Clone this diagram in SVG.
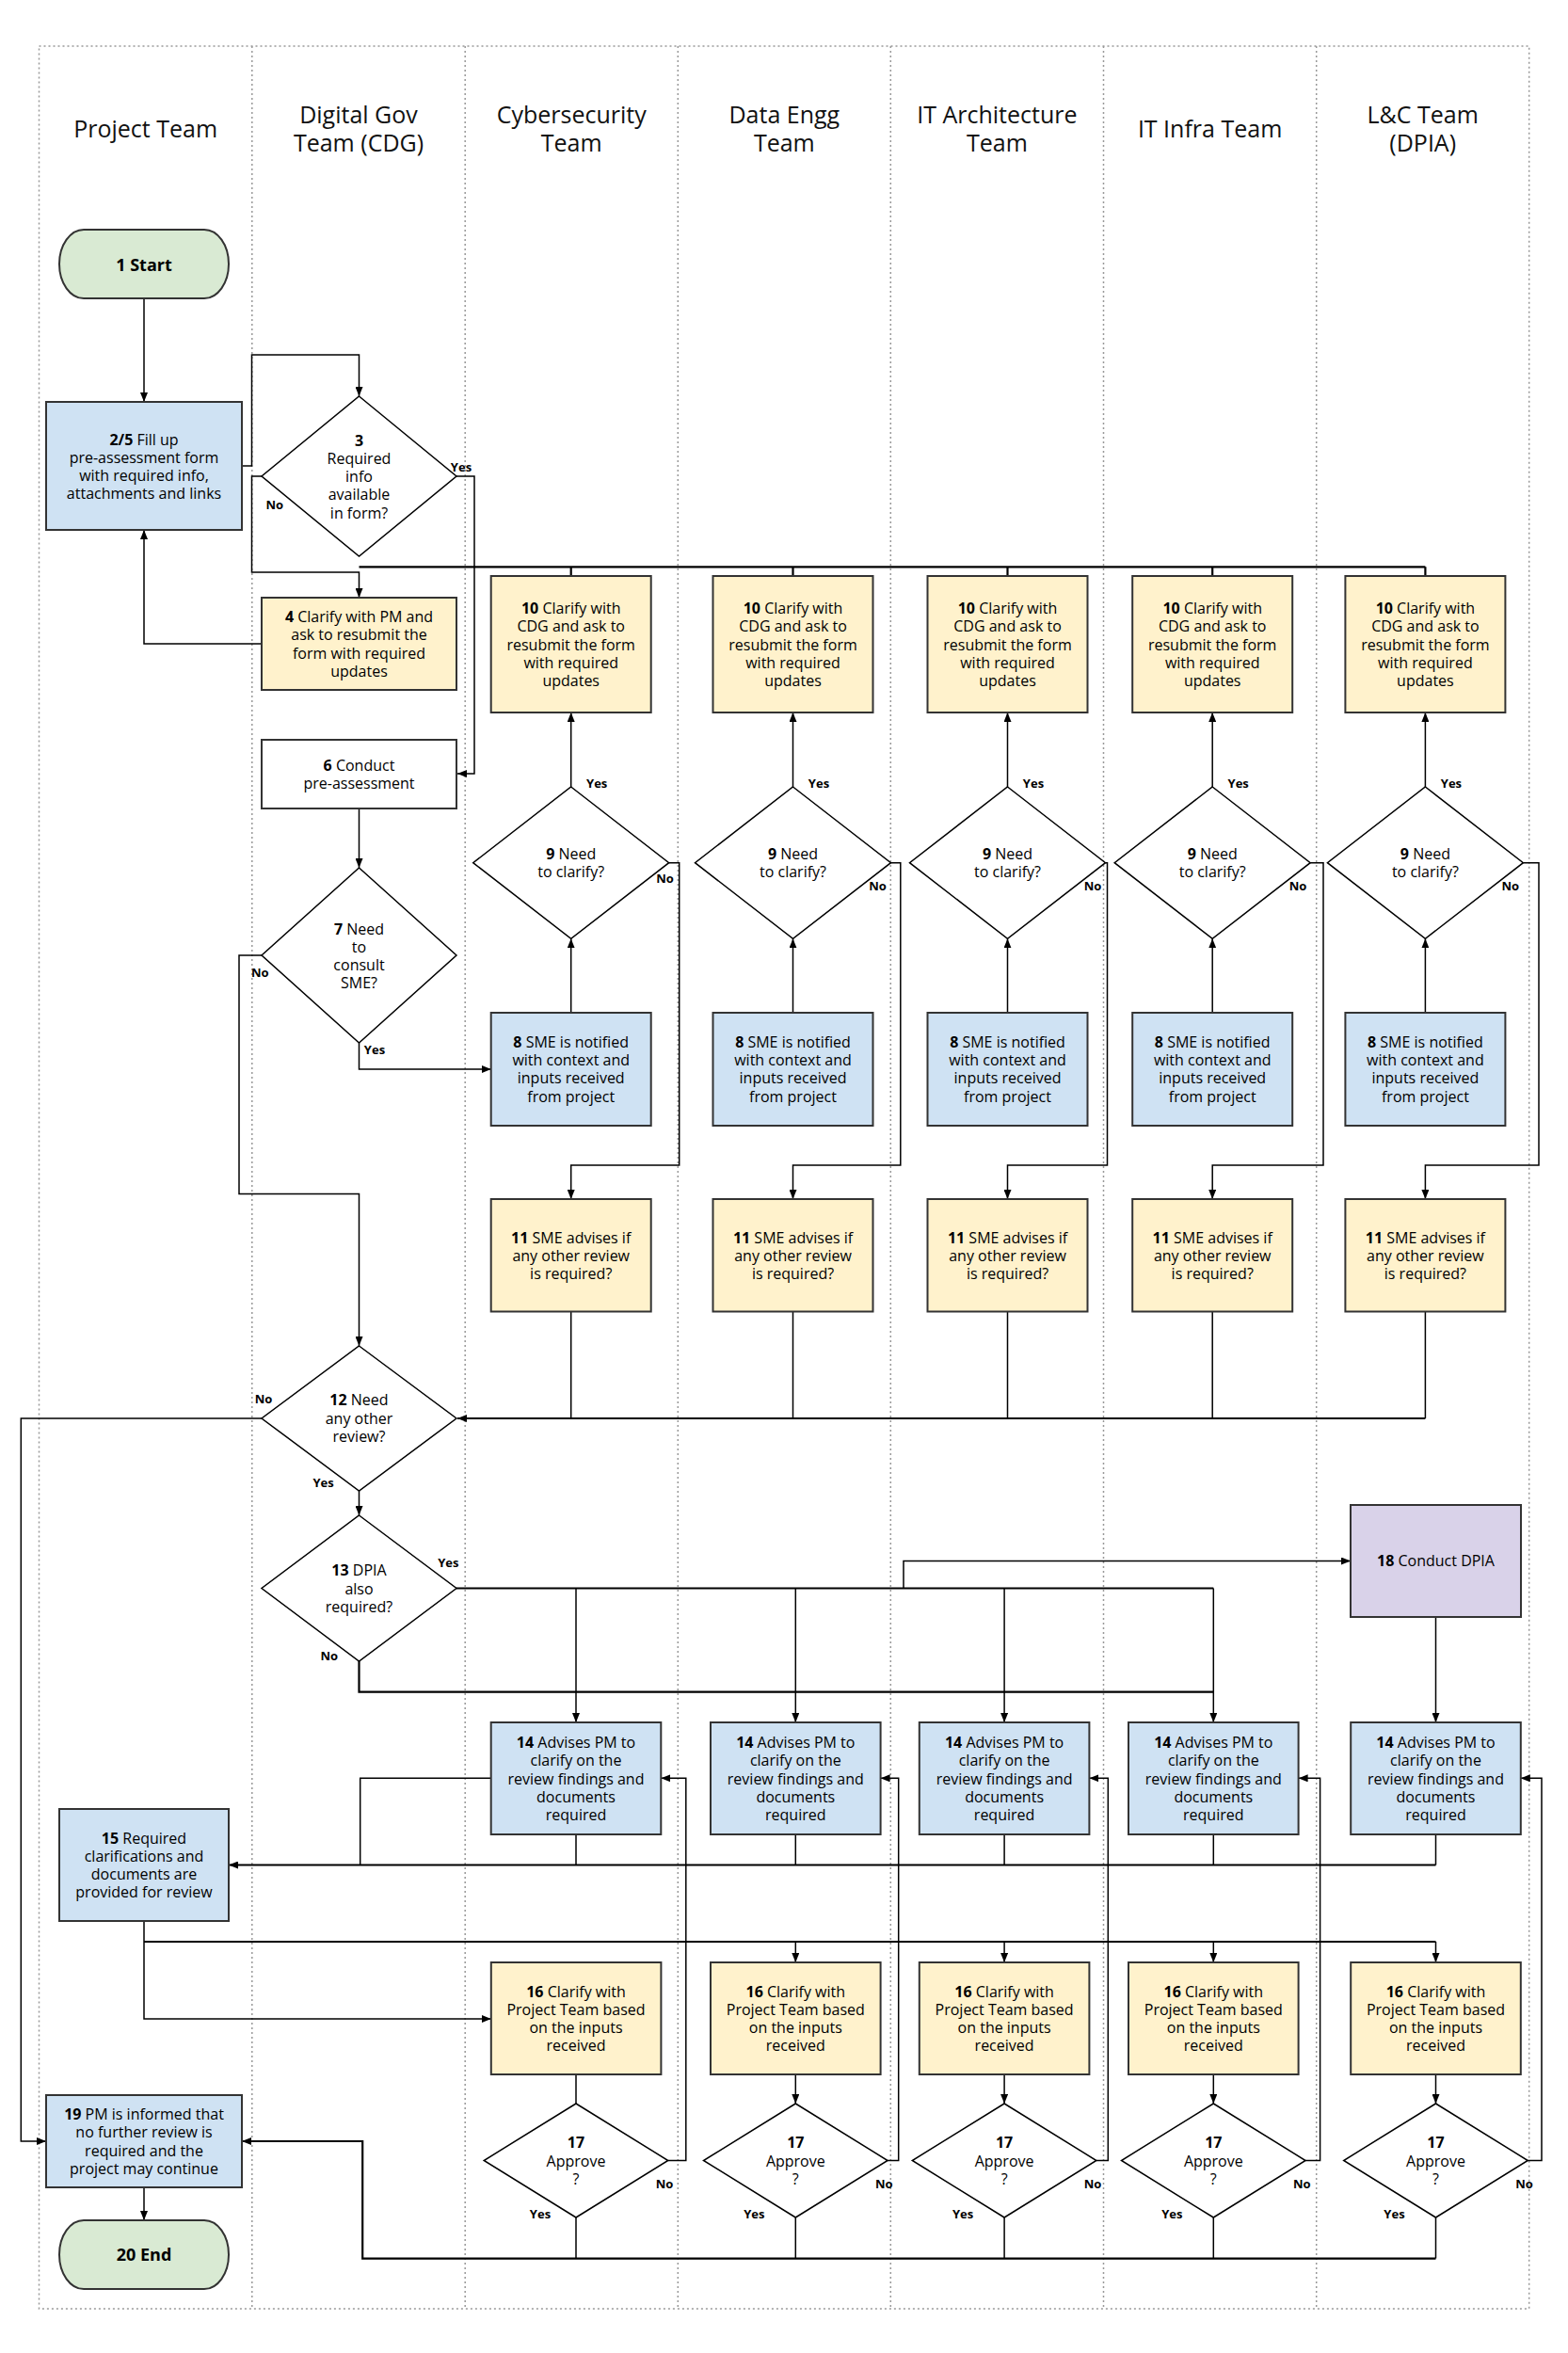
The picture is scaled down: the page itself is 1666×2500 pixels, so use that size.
<svg xmlns="http://www.w3.org/2000/svg" width="1666" height="2500" viewBox="0 0 1666 2500">
<defs>
<marker id="ah" markerWidth="10" markerHeight="8" refX="10" refY="4" orient="auto" markerUnits="userSpaceOnUse"><path d="M0,0 L10,4 L0,8 z" fill="#000"/></marker>
<style>
.lane{fill:none;stroke:#999;stroke-width:1.5;stroke-dasharray:2 3}
text{font-family:'Open Sans','Liberation Sans',sans-serif;fill:#000}
.t{font-size:16px;text-anchor:middle}
.h{font-size:25px;text-anchor:middle;fill:#111}
.lbl{font-size:13px;font-weight:bold;text-anchor:middle}
.b{font-weight:bold}
.term{font-size:18px;font-weight:bold;text-anchor:middle}
.box{stroke:#333;stroke-width:2}
.blue{fill:#cfe2f3}.yel{fill:#fff2cc}.grn{fill:#d9ead3}.pur{fill:#d9d2e9}.wht{fill:#fff}
.dia{fill:#fff;stroke:#000;stroke-width:1.5}
.c{fill:none;stroke:#000;stroke-width:1.5}
.a{marker-end:url(#ah)}
.tk{stroke-width:2.2}
</style>
</defs>
<rect width="1666" height="2500" fill="#fff"/>
<g id="lanes">
<rect x="41.5" y="49" width="1583.2" height="2404" class="lane"/>
<path class="lane" d="M267.8,49V2453M494.2,49V2453M720.3,49V2453M946.3,49V2453M1172.5,49V2453M1398.7,49V2453"/>
<text class="h" x="154.6" y="145.5">Project Team</text>
<text class="h" x="381" y="130.5">Digital Gov</text><text class="h" x="381" y="160.5">Team (CDG)</text>
<text class="h" x="607.2" y="130.5">Cybersecurity</text><text class="h" x="607.2" y="160.5">Team</text>
<text class="h" x="833.3" y="130.5">Data Engg</text><text class="h" x="833.3" y="160.5">Team</text>
<text class="h" x="1059.4" y="130.5">IT Architecture</text><text class="h" x="1059.4" y="160.5">Team</text>
<text class="h" x="1285.6" y="145.5">IT Infra Team</text>
<text class="h" x="1511.7" y="130.5">L&amp;C Team</text><text class="h" x="1511.7" y="160.5">(DPIA)</text>
</g>
<g id="connectors">
<path class="c a" d="M153,317V427"/>
<path class="c a" d="M257,495H267.5V377H381.5V421"/>
<path class="c a" d="M278,506H267.5V608H381.5V635"/>
<path class="c a" d="M485,506H504V822H486"/>
<path class="c a" d="M278,684H153V563"/>
<path class="c a" d="M381.5,859V922"/>
<path class="c a" d="M381.5,1108V1136H521.7"/>
<path class="c a" d="M278,1015H254V1268.5H381.5V1430"/>
<path class="c tk" d="M381.5,602.3H1514.4M606.7,612V602.3M842.5,612V602.3M1070.5,612V602.3M1288.2,612V602.3M1514.4,612V602.3"/>
<path class="c a" d="M606.7,1076V997.3"/><path class="c a" d="M606.7,836V757"/><path class="c a" d="M710.7,916.7H721.7V1238H606.7V1274"/>
<path class="c a" d="M842.5,1076V997.3"/><path class="c a" d="M842.5,836V757"/><path class="c a" d="M946.5,916.7H956.8V1238H842.5V1274"/>
<path class="c a" d="M1070.5,1076V997.3"/><path class="c a" d="M1070.5,836V757"/><path class="c a" d="M1174.5,916.7H1176.5V1238H1070.5V1274"/>
<path class="c a" d="M1288.2,1076V997.3"/><path class="c a" d="M1288.2,836V757"/><path class="c a" d="M1392.2,916.7H1406V1238H1288.2V1274"/>
<path class="c a" d="M1514.4,1076V997.3"/><path class="c a" d="M1514.4,836V757"/><path class="c a" d="M1618.4,916.7H1635V1238H1514.4V1274"/>
<path class="c" d="M606.7,1393.5V1507M842.5,1393.5V1507M1070.5,1393.5V1507M1288.2,1393.5V1507M1514.4,1393.5V1507"/>
<path class="c tk a" d="M1514.4,1507H486"/>
<path class="c a" d="M278,1507H22.3V2275H49"/>
<path class="c a" d="M381.5,1584V1610"/>
<path class="c tk" d="M485,1687.5H1289.3"/>
<path class="c a" d="M612,1687.5V1830"/><path class="c a" d="M845.3,1687.5V1830"/><path class="c a" d="M1067.1,1687.5V1830"/><path class="c a" d="M1289.3,1687.5V1830"/>
<path class="c a" d="M960,1687.5V1658.5H1435"/>
<path class="c tk" d="M381.5,1765V1797.7H1289.3"/>
<path class="c a" d="M1525.5,1718V1830"/>
<path class="c" d="M521.7,1889.3H382.7V1981.5M612,1949V1981.5M845.3,1949V1981.5M1067.1,1949V1981.5M1289.3,1949V1981.5M1525.5,1949V1981.5"/>
<path class="c tk a" d="M1525.5,1981.5H243"/>
<path class="c a" d="M153,2041V2145H521.8"/>
<path class="c tk" d="M153,2063H1525.5"/>
<path class="c a" d="M845.3,2063V2085"/><path class="c a" d="M1067.1,2063V2085"/><path class="c a" d="M1289.3,2063V2085"/><path class="c a" d="M1525.5,2063V2085"/>
<path class="c" d="M612,2204V2235"/><path class="c a" d="M845.3,2204V2235"/><path class="c a" d="M1067.1,2204V2235"/><path class="c a" d="M1289.3,2204V2235"/><path class="c a" d="M1525.5,2204V2235"/>
<path class="c a" d="M709.8,2295.5H728.8V1889.3H702.3"/>
<path class="c a" d="M943.1,2295.5H954.7V1889.3H935.6"/>
<path class="c a" d="M1164.9,2295.5H1177.3V1889.3H1157.4"/>
<path class="c a" d="M1387.1,2295.5H1402.6V1889.3H1379.6"/>
<path class="c a" d="M1623.3,2295.5H1638V1889.3H1615.8"/>
<path class="c" d="M612,2356V2399.6M845.3,2356V2399.6M1067.1,2356V2399.6M1289.3,2356V2399.6M1525.5,2356V2399.6"/>
<path class="c tk a" d="M1525.5,2399.6H385.2V2275H257"/>
<path class="c a" d="M153,2324V2359"/>
<text class="lbl" x="490" y="500.7">Yes</text>
<text class="lbl" x="291.7" y="541.4">No</text>
<text class="lbl" x="276.3" y="1038.2">No</text>
<text class="lbl" x="398" y="1119.7">Yes</text>
<text class="lbl" x="634.2" y="837.4">Yes</text><text class="lbl" x="706.5" y="937.7">No</text>
<text class="lbl" x="870" y="837.4">Yes</text><text class="lbl" x="932.5" y="945.7">No</text>
<text class="lbl" x="1098" y="837.4">Yes</text><text class="lbl" x="1161" y="945.7">No</text>
<text class="lbl" x="1315.7" y="837.4">Yes</text><text class="lbl" x="1379" y="945.7">No</text>
<text class="lbl" x="1541.9" y="837.4">Yes</text><text class="lbl" x="1604.8" y="945.7">No</text>
<text class="lbl" x="280" y="1490.7">No</text>
<text class="lbl" x="343.6" y="1579.6">Yes</text>
<text class="lbl" x="476.3" y="1664.7">Yes</text>
<text class="lbl" x="349.7" y="1763.7">No</text>
<text class="lbl" x="706" y="2324.7">No</text><text class="lbl" x="574" y="2357.4">Yes</text>
<text class="lbl" x="939.3" y="2324.7">No</text><text class="lbl" x="801.3" y="2357.4">Yes</text>
<text class="lbl" x="1161.1" y="2324.7">No</text><text class="lbl" x="1023.1" y="2357.4">Yes</text>
<text class="lbl" x="1383.3" y="2324.7">No</text><text class="lbl" x="1245.3" y="2357.4">Yes</text>
<text class="lbl" x="1619.5" y="2324.7">No</text><text class="lbl" x="1481.5" y="2357.4">Yes</text>
</g>
<g id="n1"><rect x="63" y="244" width="180" height="73" rx="26" ry="36.5" class="box grn"/><text class="term" x="153" y="287.5">1 Start</text></g>
<g id="n2"><rect x="49" y="427" width="208" height="136" class="box blue"/>
<text class="t" x="153" y="472.7"><tspan class="b">2/5</tspan> Fill up</text><text class="t" x="153" y="491.9">pre-assessment form</text><text class="t" x="153" y="511.1">with required info,</text><text class="t" x="153" y="530.3">attachments and links</text></g>
<g id="n3"><path class="dia" d="M381.5,421L485,506L381.5,591L278,506Z"/>
<text class="t b" x="381.5" y="473.8">3</text><text class="t" x="381.5" y="493">Required</text><text class="t" x="381.5" y="512.2">info</text><text class="t" x="381.5" y="531.4">available</text><text class="t" x="381.5" y="550.6">in form?</text></g>
<g id="n4"><rect x="278" y="635" width="207" height="98" class="box yel"/>
<text class="t" x="381.5" y="661.2"><tspan class="b">4</tspan> Clarify with PM and</text><text class="t" x="381.5" y="680.4">ask to resubmit the</text><text class="t" x="381.5" y="699.6">form with required</text><text class="t" x="381.5" y="718.8">updates</text></g>
<g id="n6"><rect x="278" y="786" width="207" height="73" class="box wht"/>
<text class="t" x="381.5" y="818.9"><tspan class="b">6</tspan> Conduct</text><text class="t" x="381.5" y="838.1">pre-assessment</text></g>
<g id="n7"><path class="dia" d="M381.5,922L485,1015L381.5,1108L278,1015Z"/>
<text class="t" x="381.5" y="992.7"><tspan class="b">7</tspan> Need</text><text class="t" x="381.5" y="1011.9">to</text><text class="t" x="381.5" y="1031.1">consult</text><text class="t" x="381.5" y="1050.3">SME?</text></g>
<g id="n12"><path class="dia" d="M381.5,1430L485,1507L381.5,1584L278,1507Z"/>
<text class="t" x="381.5" y="1493.3"><tspan class="b">12</tspan> Need</text><text class="t" x="381.5" y="1512.5">any other</text><text class="t" x="381.5" y="1531.7">review?</text></g>
<g id="n13"><path class="dia" d="M381.5,1610L485,1687.5L381.5,1765L278,1687.5Z"/>
<text class="t" x="381.5" y="1674.3"><tspan class="b">13</tspan> DPIA</text><text class="t" x="381.5" y="1693.5">also</text><text class="t" x="381.5" y="1712.7">required?</text></g>
<g id="n10-cyber"><rect x="521.7" y="612" width="170" height="145" class="box yel"/>
<text class="t" x="606.7" y="652.1"><tspan class="b">10</tspan> Clarify with</text><text class="t" x="606.7" y="671.3">CDG and ask to</text><text class="t" x="606.7" y="690.5">resubmit the form</text><text class="t" x="606.7" y="709.7">with required</text><text class="t" x="606.7" y="728.9">updates</text></g>
<g id="n10-data"><rect x="757.5" y="612" width="170" height="145" class="box yel"/>
<text class="t" x="842.5" y="652.1"><tspan class="b">10</tspan> Clarify with</text><text class="t" x="842.5" y="671.3">CDG and ask to</text><text class="t" x="842.5" y="690.5">resubmit the form</text><text class="t" x="842.5" y="709.7">with required</text><text class="t" x="842.5" y="728.9">updates</text></g>
<g id="n10-arch"><rect x="985.5" y="612" width="170" height="145" class="box yel"/>
<text class="t" x="1070.5" y="652.1"><tspan class="b">10</tspan> Clarify with</text><text class="t" x="1070.5" y="671.3">CDG and ask to</text><text class="t" x="1070.5" y="690.5">resubmit the form</text><text class="t" x="1070.5" y="709.7">with required</text><text class="t" x="1070.5" y="728.9">updates</text></g>
<g id="n10-infra"><rect x="1203.2" y="612" width="170" height="145" class="box yel"/>
<text class="t" x="1288.2" y="652.1"><tspan class="b">10</tspan> Clarify with</text><text class="t" x="1288.2" y="671.3">CDG and ask to</text><text class="t" x="1288.2" y="690.5">resubmit the form</text><text class="t" x="1288.2" y="709.7">with required</text><text class="t" x="1288.2" y="728.9">updates</text></g>
<g id="n10-lc"><rect x="1429.4" y="612" width="170" height="145" class="box yel"/>
<text class="t" x="1514.4" y="652.1"><tspan class="b">10</tspan> Clarify with</text><text class="t" x="1514.4" y="671.3">CDG and ask to</text><text class="t" x="1514.4" y="690.5">resubmit the form</text><text class="t" x="1514.4" y="709.7">with required</text><text class="t" x="1514.4" y="728.9">updates</text></g>
<g id="n9-cyber"><path class="dia" d="M606.7,836L710.7,916.7L606.7,997.3L502.7,916.7Z"/><text class="t" x="606.7" y="912.9"><tspan class="b">9</tspan> Need</text><text class="t" x="606.7" y="932.1">to clarify?</text></g>
<g id="n9-data"><path class="dia" d="M842.5,836L946.5,916.7L842.5,997.3L738.5,916.7Z"/><text class="t" x="842.5" y="912.9"><tspan class="b">9</tspan> Need</text><text class="t" x="842.5" y="932.1">to clarify?</text></g>
<g id="n9-arch"><path class="dia" d="M1070.5,836L1174.5,916.7L1070.5,997.3L966.5,916.7Z"/><text class="t" x="1070.5" y="912.9"><tspan class="b">9</tspan> Need</text><text class="t" x="1070.5" y="932.1">to clarify?</text></g>
<g id="n9-infra"><path class="dia" d="M1288.2,836L1392.2,916.7L1288.2,997.3L1184.2,916.7Z"/><text class="t" x="1288.2" y="912.9"><tspan class="b">9</tspan> Need</text><text class="t" x="1288.2" y="932.1">to clarify?</text></g>
<g id="n9-lc"><path class="dia" d="M1514.4,836L1618.4,916.7L1514.4,997.3L1410.4,916.7Z"/><text class="t" x="1514.4" y="912.9"><tspan class="b">9</tspan> Need</text><text class="t" x="1514.4" y="932.1">to clarify?</text></g>
<g id="n8-cyber"><rect x="521.7" y="1076" width="170" height="120" class="box blue"/><text class="t" x="606.7" y="1113"><tspan class="b">8</tspan> SME is notified</text><text class="t" x="606.7" y="1132.2">with context and</text><text class="t" x="606.7" y="1151.4">inputs received</text><text class="t" x="606.7" y="1170.6">from project</text></g>
<g id="n8-data"><rect x="757.5" y="1076" width="170" height="120" class="box blue"/><text class="t" x="842.5" y="1113"><tspan class="b">8</tspan> SME is notified</text><text class="t" x="842.5" y="1132.2">with context and</text><text class="t" x="842.5" y="1151.4">inputs received</text><text class="t" x="842.5" y="1170.6">from project</text></g>
<g id="n8-arch"><rect x="985.5" y="1076" width="170" height="120" class="box blue"/><text class="t" x="1070.5" y="1113"><tspan class="b">8</tspan> SME is notified</text><text class="t" x="1070.5" y="1132.2">with context and</text><text class="t" x="1070.5" y="1151.4">inputs received</text><text class="t" x="1070.5" y="1170.6">from project</text></g>
<g id="n8-infra"><rect x="1203.2" y="1076" width="170" height="120" class="box blue"/><text class="t" x="1288.2" y="1113"><tspan class="b">8</tspan> SME is notified</text><text class="t" x="1288.2" y="1132.2">with context and</text><text class="t" x="1288.2" y="1151.4">inputs received</text><text class="t" x="1288.2" y="1170.6">from project</text></g>
<g id="n8-lc"><rect x="1429.4" y="1076" width="170" height="120" class="box blue"/><text class="t" x="1514.4" y="1113"><tspan class="b">8</tspan> SME is notified</text><text class="t" x="1514.4" y="1132.2">with context and</text><text class="t" x="1514.4" y="1151.4">inputs received</text><text class="t" x="1514.4" y="1170.6">from project</text></g>
<g id="n11-cyber"><rect x="521.7" y="1274" width="170" height="119.5" class="box yel"/><text class="t" x="606.7" y="1320.8"><tspan class="b">11</tspan> SME advises if</text><text class="t" x="606.7" y="1340">any other review</text><text class="t" x="606.7" y="1359.2">is required?</text></g>
<g id="n11-data"><rect x="757.5" y="1274" width="170" height="119.5" class="box yel"/><text class="t" x="842.5" y="1320.8"><tspan class="b">11</tspan> SME advises if</text><text class="t" x="842.5" y="1340">any other review</text><text class="t" x="842.5" y="1359.2">is required?</text></g>
<g id="n11-arch"><rect x="985.5" y="1274" width="170" height="119.5" class="box yel"/><text class="t" x="1070.5" y="1320.8"><tspan class="b">11</tspan> SME advises if</text><text class="t" x="1070.5" y="1340">any other review</text><text class="t" x="1070.5" y="1359.2">is required?</text></g>
<g id="n11-infra"><rect x="1203.2" y="1274" width="170" height="119.5" class="box yel"/><text class="t" x="1288.2" y="1320.8"><tspan class="b">11</tspan> SME advises if</text><text class="t" x="1288.2" y="1340">any other review</text><text class="t" x="1288.2" y="1359.2">is required?</text></g>
<g id="n11-lc"><rect x="1429.4" y="1274" width="170" height="119.5" class="box yel"/><text class="t" x="1514.4" y="1320.8"><tspan class="b">11</tspan> SME advises if</text><text class="t" x="1514.4" y="1340">any other review</text><text class="t" x="1514.4" y="1359.2">is required?</text></g>
<g id="n18"><rect x="1435" y="1599" width="181" height="119" class="box pur"/><text class="t" x="1525.5" y="1664"><tspan class="b">18</tspan> Conduct DPIA</text></g>
<g id="n14-cyber"><rect x="521.7" y="1830" width="180.6" height="119" class="box blue"/><text class="t" x="612" y="1857.1"><tspan class="b">14</tspan> Advises PM to</text><text class="t" x="612" y="1876.3">clarify on the</text><text class="t" x="612" y="1895.5">review findings and</text><text class="t" x="612" y="1914.7">documents</text><text class="t" x="612" y="1933.9">required</text></g>
<g id="n14-data"><rect x="755" y="1830" width="180.6" height="119" class="box blue"/><text class="t" x="845.3" y="1857.1"><tspan class="b">14</tspan> Advises PM to</text><text class="t" x="845.3" y="1876.3">clarify on the</text><text class="t" x="845.3" y="1895.5">review findings and</text><text class="t" x="845.3" y="1914.7">documents</text><text class="t" x="845.3" y="1933.9">required</text></g>
<g id="n14-arch"><rect x="976.8" y="1830" width="180.6" height="119" class="box blue"/><text class="t" x="1067.1" y="1857.1"><tspan class="b">14</tspan> Advises PM to</text><text class="t" x="1067.1" y="1876.3">clarify on the</text><text class="t" x="1067.1" y="1895.5">review findings and</text><text class="t" x="1067.1" y="1914.7">documents</text><text class="t" x="1067.1" y="1933.9">required</text></g>
<g id="n14-infra"><rect x="1199" y="1830" width="180.6" height="119" class="box blue"/><text class="t" x="1289.3" y="1857.1"><tspan class="b">14</tspan> Advises PM to</text><text class="t" x="1289.3" y="1876.3">clarify on the</text><text class="t" x="1289.3" y="1895.5">review findings and</text><text class="t" x="1289.3" y="1914.7">documents</text><text class="t" x="1289.3" y="1933.9">required</text></g>
<g id="n14-lc"><rect x="1435.2" y="1830" width="180.6" height="119" class="box blue"/><text class="t" x="1525.5" y="1857.1"><tspan class="b">14</tspan> Advises PM to</text><text class="t" x="1525.5" y="1876.3">clarify on the</text><text class="t" x="1525.5" y="1895.5">review findings and</text><text class="t" x="1525.5" y="1914.7">documents</text><text class="t" x="1525.5" y="1933.9">required</text></g>
<g id="n15"><rect x="63" y="1922" width="180" height="119" class="box blue"/><text class="t" x="153" y="1958.7"><tspan class="b">15</tspan> Required</text><text class="t" x="153" y="1977.9">clarifications and</text><text class="t" x="153" y="1997.1">documents are</text><text class="t" x="153" y="2016.3">provided for review</text></g>
<g id="n16-cyber"><rect x="521.8" y="2085" width="180.6" height="119" class="box yel"/><text class="t" x="612" y="2121.7"><tspan class="b">16</tspan> Clarify with</text><text class="t" x="612" y="2140.9">Project Team based</text><text class="t" x="612" y="2160.1">on the inputs</text><text class="t" x="612" y="2179.3">received</text></g>
<g id="n16-data"><rect x="755" y="2085" width="180.6" height="119" class="box yel"/><text class="t" x="845.3" y="2121.7"><tspan class="b">16</tspan> Clarify with</text><text class="t" x="845.3" y="2140.9">Project Team based</text><text class="t" x="845.3" y="2160.1">on the inputs</text><text class="t" x="845.3" y="2179.3">received</text></g>
<g id="n16-arch"><rect x="976.8" y="2085" width="180.6" height="119" class="box yel"/><text class="t" x="1067.1" y="2121.7"><tspan class="b">16</tspan> Clarify with</text><text class="t" x="1067.1" y="2140.9">Project Team based</text><text class="t" x="1067.1" y="2160.1">on the inputs</text><text class="t" x="1067.1" y="2179.3">received</text></g>
<g id="n16-infra"><rect x="1199" y="2085" width="180.6" height="119" class="box yel"/><text class="t" x="1289.3" y="2121.7"><tspan class="b">16</tspan> Clarify with</text><text class="t" x="1289.3" y="2140.9">Project Team based</text><text class="t" x="1289.3" y="2160.1">on the inputs</text><text class="t" x="1289.3" y="2179.3">received</text></g>
<g id="n16-lc"><rect x="1435.2" y="2085" width="180.6" height="119" class="box yel"/><text class="t" x="1525.5" y="2121.7"><tspan class="b">16</tspan> Clarify with</text><text class="t" x="1525.5" y="2140.9">Project Team based</text><text class="t" x="1525.5" y="2160.1">on the inputs</text><text class="t" x="1525.5" y="2179.3">received</text></g>
<g id="n17-cyber"><path class="dia" d="M612,2235L709.8,2295.5L612,2356L514.2,2295.5Z"/><text class="t b" x="612" y="2282.3">17</text><text class="t" x="612" y="2301.5">Approve</text><text class="t" x="612" y="2320.7">?</text></g>
<g id="n17-data"><path class="dia" d="M845.3,2235L943.1,2295.5L845.3,2356L747.5,2295.5Z"/><text class="t b" x="845.3" y="2282.3">17</text><text class="t" x="845.3" y="2301.5">Approve</text><text class="t" x="845.3" y="2320.7">?</text></g>
<g id="n17-arch"><path class="dia" d="M1067.1,2235L1164.9,2295.5L1067.1,2356L969.3,2295.5Z"/><text class="t b" x="1067.1" y="2282.3">17</text><text class="t" x="1067.1" y="2301.5">Approve</text><text class="t" x="1067.1" y="2320.7">?</text></g>
<g id="n17-infra"><path class="dia" d="M1289.3,2235L1387.1,2295.5L1289.3,2356L1191.5,2295.5Z"/><text class="t b" x="1289.3" y="2282.3">17</text><text class="t" x="1289.3" y="2301.5">Approve</text><text class="t" x="1289.3" y="2320.7">?</text></g>
<g id="n17-lc"><path class="dia" d="M1525.5,2235L1623.3,2295.5L1525.5,2356L1427.7,2295.5Z"/><text class="t b" x="1525.5" y="2282.3">17</text><text class="t" x="1525.5" y="2301.5">Approve</text><text class="t" x="1525.5" y="2320.7">?</text></g>
<g id="n19"><rect x="49" y="2226" width="208" height="98" class="box blue"/><text class="t" x="153" y="2252.2"><tspan class="b">19</tspan> PM is informed that</text><text class="t" x="153" y="2271.4">no further review is</text><text class="t" x="153" y="2290.6">required and the</text><text class="t" x="153" y="2309.8">project may continue</text></g>
<g id="n20"><rect x="63" y="2359" width="180" height="73" rx="26" ry="36.5" class="box grn"/><text class="term" x="153" y="2402">20 End</text></g>
</svg>
